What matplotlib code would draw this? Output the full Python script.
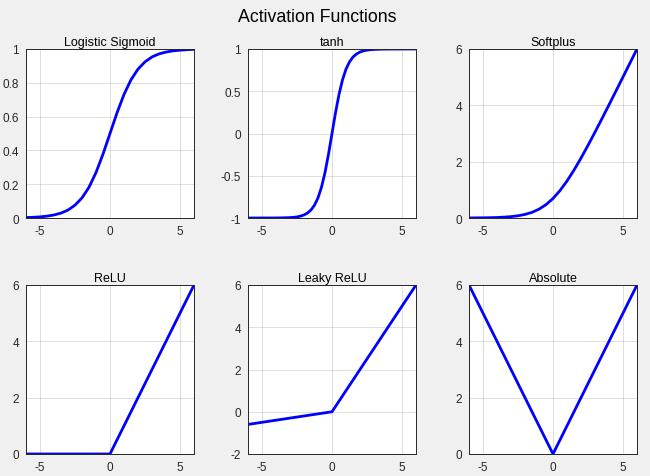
import matplotlib
matplotlib.use("Agg")
import matplotlib.pyplot as plt
from matplotlib.ticker import FormatStrFormatter

plt.rcParams["font.family"] = ["Liberation Sans", "DejaVu Sans"]
plt.rcParams["axes.unicode_minus"] = False

x_half = [-6, -5.5, -5, -4.5, -4, -3.5, -3, -2.5, -2, -1.5, -1, -0.5, 0,
          0.5, 1, 1.5, 2, 2.5, 3, 3.5, 4, 4.5, 5, 5.5, 6]
sigmoid_y = [0.0025, 0.0041, 0.0067, 0.011, 0.018, 0.029, 0.047, 0.076, 0.119,
             0.182, 0.269, 0.378, 0.5, 0.622, 0.731, 0.818, 0.881, 0.924, 0.953,
             0.971, 0.982, 0.989, 0.993, 0.996, 0.998]
softplus_y = [0.0025, 0.0041, 0.0067, 0.011, 0.018, 0.030, 0.049, 0.079, 0.127,
              0.201, 0.313, 0.474, 0.693, 0.974, 1.313, 1.701, 2.127, 2.579,
              3.049, 3.530, 4.018, 4.511, 5.007, 5.504, 6.002]

x_tanh = [-6, -5, -4, -3.5, -3, -2.75, -2.5, -2.25, -2, -1.75, -1.5, -1.25, -1,
          -0.75, -0.5, -0.25, 0, 0.25, 0.5, 0.75, 1, 1.25, 1.5, 1.75, 2, 2.25,
          2.5, 2.75, 3, 3.5, 4, 5, 6]
tanh_y = [-1.0, -0.9999, -0.9993, -0.998, -0.995, -0.992, -0.987, -0.978, -0.964,
          -0.941, -0.905, -0.848, -0.762, -0.635, -0.462, -0.245, 0.0, 0.245,
          0.462, 0.635, 0.762, 0.848, 0.905, 0.941, 0.964, 0.978, 0.987, 0.992,
          0.995, 0.998, 0.9993, 0.9999, 1.0]

x_kink = [-6, 0, 6]
relu_y = [0, 0, 6]
leaky_y = [-0.6, 0, 6]
abs_y = [6, 0, 6]

titles = ["Logistic Sigmoid", "tanh", "Softplus", "ReLU", "Leaky ReLU", "Absolute"]
series = [(x_half, sigmoid_y), (x_tanh, tanh_y), (x_half, softplus_y),
          (x_kink, relu_y), (x_kink, leaky_y), (x_kink, abs_y)]
ylims = [(0, 1), (-1, 1), (0, 6), (0, 6), (-2, 6), (0, 6)]
ysteps = [0.2, 0.5, 2, 2, 2, 2]

fig = plt.figure(figsize=(6.5, 4.77), dpi=100, facecolor="#f0f0f0")
fig.suptitle("Activation Functions", fontsize=12.8, x=0.488, y=0.982, color="black")

W, H = 650, 477
lefts = [26, 248, 469]
tops = [50, 286]
aw, ah = 168, 169

grey = "#262626"
for i, (title, (xs, ys), yl, st) in enumerate(zip(titles, series, ylims, ysteps)):
    r, c = divmod(i, 3)
    ax = fig.add_axes([lefts[c] / W, 1 - (tops[r] + ah) / H, aw / W, ah / H])
    ax.plot(xs, ys, color="#0000ff", lw=2.0, solid_capstyle="butt")
    ax.set_xlim(-6, 6)
    ax.set_ylim(*yl)
    ax.set_xticks([-5, 0, 5])
    n = int(round((yl[1] - yl[0]) / st))
    ax.set_yticks([yl[0] + k * st for k in range(n + 1)])
    ax.yaxis.set_major_formatter(FormatStrFormatter("%g"))
    ax.set_title(title, fontsize=9, pad=3, color="black")
    ax.grid(True, color="#262626", alpha=0.15, lw=0.7)
    ax.tick_params(length=0, labelsize=8.5, colors=grey, pad=5)
    for s in ax.spines.values():
        s.set_color(grey)
        s.set_linewidth(0.7)

fig.savefig("out.png", dpi=100, facecolor=fig.get_facecolor())
